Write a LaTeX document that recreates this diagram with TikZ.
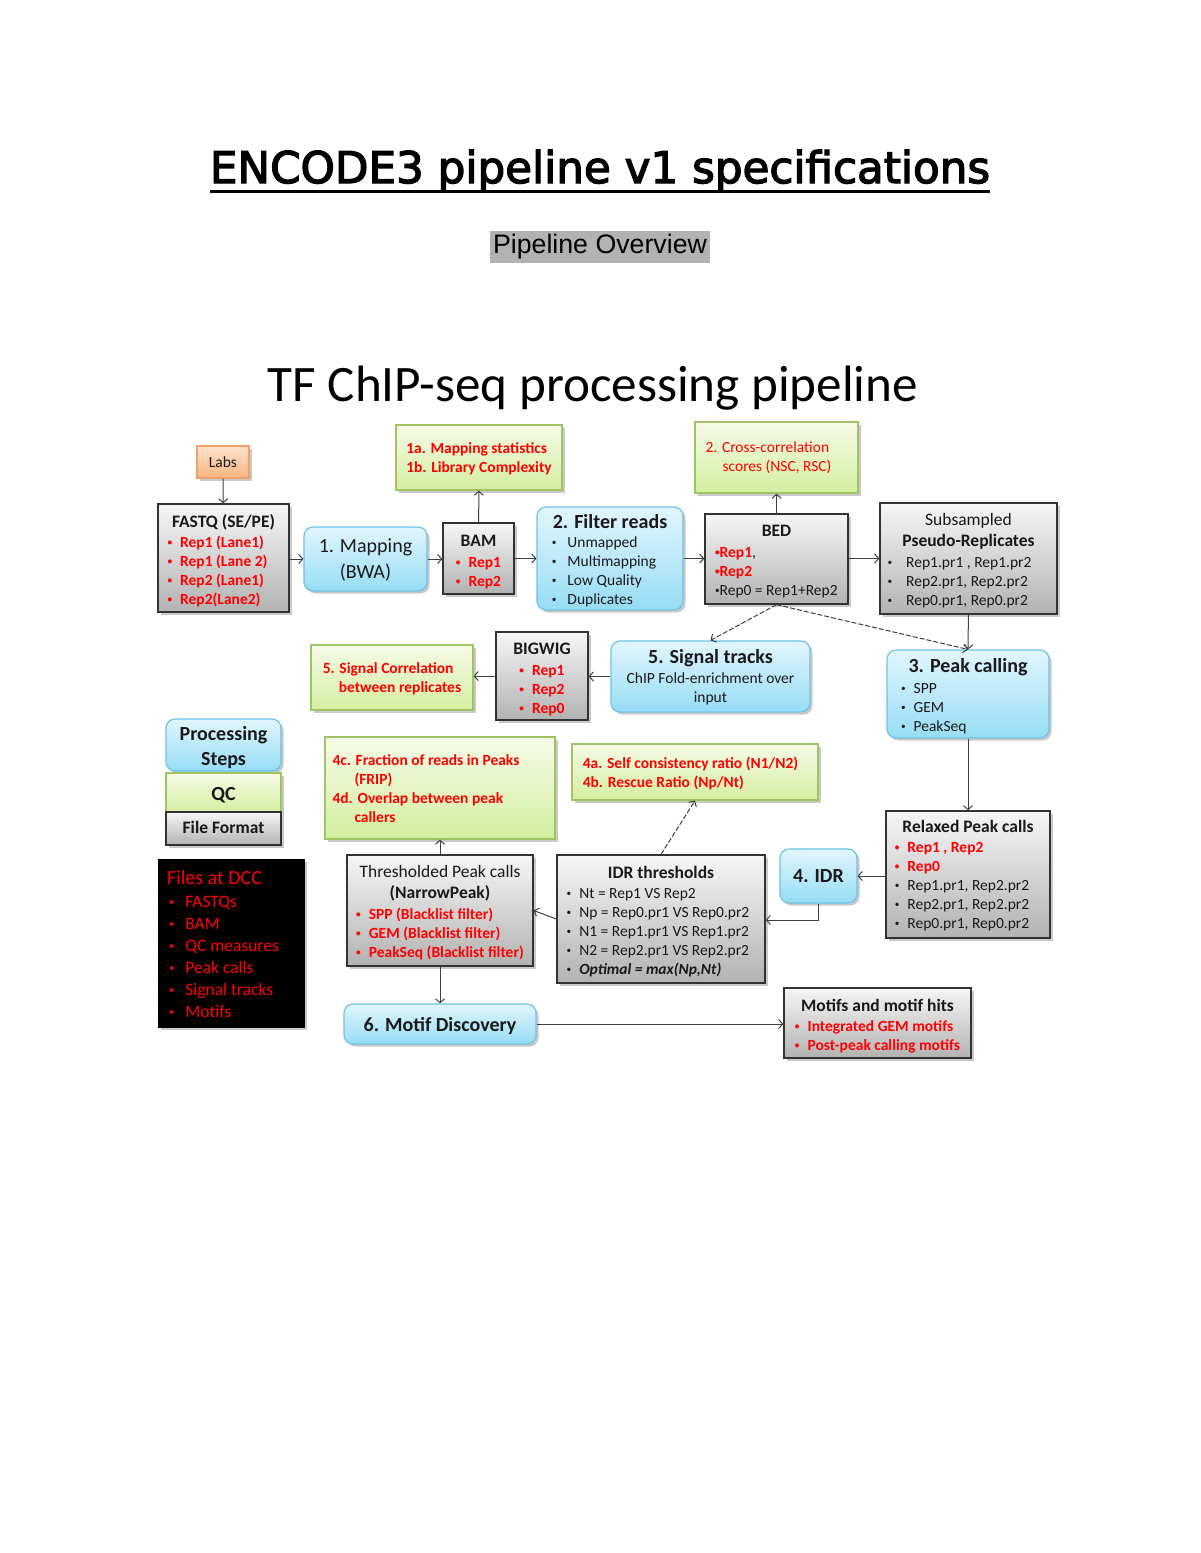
\documentclass[tikz,border=0pt]{standalone}
\usepackage{fontspec}
\setmainfont{Carlito}
\newfontfamily\titlefont[FakeBold=3]{DejaVu Sans}
\newfontfamily\ovfont{Liberation Sans}
\usepackage{graphicx}
\usetikzlibrary{arrows.meta,shadows}
\definecolor{tred}{RGB}{255,0,0}
\definecolor{tblk}{RGB}{25,25,25}
\definecolor{gtop}{RGB}{246,246,246}
\definecolor{gbot}{RGB}{178,178,178}
\definecolor{btop}{RGB}{226,246,253}
\definecolor{bbot}{RGB}{150,220,245}
\definecolor{bdraw}{RGB}{110,195,230}
\definecolor{qtop}{RGB}{246,251,232}
\definecolor{qbot}{RGB}{212,238,160}
\definecolor{qdraw}{RGB}{160,195,100}
\definecolor{otop}{RGB}{253,228,206}
\definecolor{obot}{RGB}{249,178,128}
\definecolor{odraw}{RGB}{240,160,105}
\newcommand\bfs{\fontsize{15.5}{19}\selectfont}
\newcommand\hfs{\fontsize{17.5}{21}\selectfont}
\newcommand\Hfs{\fontsize{20}{25.5}\selectfont}
\newcommand\dott{\raisebox{0.12em}{\scalebox{0.6}{\textbullet}}}
\newcommand\bu{\dott\hspace{8pt}}
\newcommand\rb[1]{\textcolor{tred}{\textbf{#1}}}
\newcommand\lst[1]{\begin{tabular}[t]{@{}l@{}}#1\end{tabular}}
\newbox\nodebx
\newcommand\ct[2][3pt]{\setbox\nodebx=\hbox{\begin{tabular}{@{}c@{}}#2\end{tabular}}%
  \ht\nodebx=\dimexpr\ht\nodebx+#1\relax
  \dp\nodebx=\dimexpr\dp\nodebx-#1\relax
  \lower#1\box\nodebx}
\tikzset{
  x=1pt, y=-1pt,
  base/.style={inner sep=0pt, text=tblk, font=\bfs,
    drop shadow={shadow xshift=2.5pt, shadow yshift=-2.5pt, fill=black!35, opacity=0.6}},
  gbox/.style={base, draw=black!80, line width=1.3pt, top color=gtop, bottom color=gbot},
  bbox/.style={base, draw=bdraw, line width=1.2pt, rounded corners=9pt, top color=btop, bottom color=bbot},
  qbox/.style={base, draw=qdraw, line width=1.2pt, top color=qtop, bottom color=qbot, text=tred},
  obox/.style={base, draw=odraw, line width=1.2pt, top color=otop, bottom color=obot},
  kbox/.style={base, draw=black, fill=black, text=tred},
  arr/.style={draw=black!75, line width=1pt, -{Straight Barb[length=4pt,width=9pt]}},
  darr/.style={arr, dash pattern=on 5pt off 2pt},
}
\begin{document}
\begin{tikzpicture}
\useasboundingbox[fill=white] (0,0) rectangle (1200,1553);

% headings
\node[inner sep=0pt] (title) at (600,171) {\resizebox{780pt}{!}{\titlefont ENCODE3 pipeline v1 specifications}};
\draw[line width=3pt] (210,191) -- (990,191);
\node[fill=black!30, minimum width=220pt, minimum height=32pt, inner sep=0pt] (ov) at (600,247)
  {\resizebox{214pt}{!}{\ovfont Pipeline Overview}};
\node[inner sep=0pt] (tf) at (593,388) {\resizebox{650pt}{!}{TF ChIP-seq processing pipeline}};

% nodes
\node[obox, minimum width=52pt, minimum height=32pt] (labs) at (223,462) {Labs};
\node[gbox, minimum width=131pt, minimum height=108pt] (fastq) at (223.5,558)
  {\ct[4pt]{{\hfs\textbf{FASTQ (SE/PE)}}\\[1pt]
   \lst{\rb{\bu Rep1 (Lane1)}\\ \rb{\bu Rep1 (Lane 2)}\\ \rb{\bu Rep2 (Lane1)}\\ \rb{\bu Rep2(Lane2)}}\kern12pt}};
\node[bbox, minimum width=123pt, minimum height=64pt, font=\Hfs] (map) at (365.5,559) {\ct[1.5pt]{1. Mapping\\(BWA)}};
\node[gbox, minimum width=71pt, minimum height=71pt] (bam) at (478.5,558.5)
  {\ct[4pt]{{\hfs\textbf{BAM}}\\[2pt] \lst{\rb{\bu Rep1}\\ \rb{\bu Rep2}}}};
\node[qbox, minimum width=166pt, minimum height=65pt] (q1) at (479,457.5)
  {\ct[2pt]{\lst{\textbf{1a. Mapping statistics}\\ \textbf{1b. Library Complexity}}}};
\node[bbox, minimum width=146pt, minimum height=103pt] (filt) at (610,558.5)
  {\ct[4pt]{{\Hfs\textbf{2. Filter reads}}\\
   \lst{\dott\hspace{11pt}Unmapped\\ \dott\hspace{11pt}Multimapping\\ \dott\hspace{11pt}Low Quality\\ \dott\hspace{11pt}Duplicates}\kern12pt}};
\node[gbox, minimum width=143pt, minimum height=90pt] (bed) at (776.5,559)
  {\ct[3pt]{\lst{\makebox[123pt]{\hfs\textbf{BED}}\\[2pt] \rb{\dott Rep1},\\ \rb{\dott Rep2}\\ \dott Rep0 = Rep1+Rep2}}};
\node[qbox, minimum width=163pt, minimum height=71pt] (q2) at (776.5,457.5)
  {\ct[1pt]{\lst{2. Cross-correlation\\ \hspace{17pt}scores (NSC, RSC)}\kern16pt}};
\node[gbox, minimum width=177pt, minimum height=111pt] (sub) at (968.5,558.5)
  {\ct[3.5pt]{{\hfs Subsampled}\\[2pt] {\hfs\textbf{Pseudo-Replicates}}\\[2pt]
   \lst{\dott\hspace{14pt}Rep1.pr1 , Rep1.pr2\\ \dott\hspace{14pt}Rep2.pr1, Rep2.pr2\\ \dott\hspace{14pt}Rep0.pr1, Rep0.pr2}\kern18pt}};
\node[bbox, minimum width=162pt, minimum height=88pt] (peak) at (968,694)
  {\ct[4pt]{\lst{\makebox[140pt]{\Hfs\textbf{3. Peak calling}}\\[2pt] \kern3pt\bu SPP\\ \kern3pt\bu GEM\\ \kern3pt\bu PeakSeq}}};
\node[bbox, minimum width=199pt, minimum height=71pt] (sig) at (710.5,676.5)
  {\ct[2.5pt]{{\Hfs\textbf{5. Signal tracks}}\\[1pt] ChIP Fold-enrichment over\\ input}};
\node[gbox, minimum width=92pt, minimum height=88pt] (bw) at (542,676)
  {\ct[4.5pt]{{\hfs\textbf{BIGWIG}}\\[2pt] \lst{\rb{\bu Rep1}\\ \rb{\bu Rep2}\\ \rb{\bu Rep0}}}};
\node[qbox, minimum width=162pt, minimum height=65pt] (q5) at (392,677.5)
  {\ct[2pt]{\lst{\textbf{5. Signal Correlation}\\ \hspace{16pt}\textbf{between replicates}}}};

% legend
\node[bbox, minimum width=115pt, minimum height=52pt, font=\Hfs\bfseries] (legp) at (223.5,745) {\ct[3pt]{Processing\\Steps}};
\node[qbox, minimum width=115pt, minimum height=39pt, font=\Hfs\bfseries, text=tblk] (legq) at (223.5,792.5) {\ct[3pt]{QC}};
\node[gbox, minimum width=115pt, minimum height=33pt, font=\hfs\bfseries] (legf) at (223.5,828.5) {\ct[1pt]{File Format}};

\node[qbox, minimum width=230pt, minimum height=102pt] (q4c) at (440,788)
  {\ct[2pt]{\lst{\textbf{4c. Fraction of reads in Peaks}\\ \hspace{22pt}\textbf{(FRIP)}\\ \textbf{4d. Overlap between peak}\\ \hspace{22pt}\textbf{callers}}\kern28pt}};
\node[qbox, minimum width=246pt, minimum height=56pt] (q4a) at (695,772)
  {\ct[2pt]{\lst{\textbf{4a. Self consistency ratio (N1/N2)}\\ \textbf{4b. Rescue Ratio (Np/Nt)}}\kern9pt}};

\node[kbox, minimum width=146pt, minimum height=168pt] (dcc) at (231,943)
  {\ct[4pt]{\lst{{\Hfs Files at DCC}\\[2pt]
   {\fontsize{17.5}{22}\selectfont\lst{\kern2pt\dott\hspace{11pt}FASTQs\\ \kern2pt\dott\hspace{11pt}BAM\\ \kern2pt\dott\hspace{11pt}QC measures\\ \kern2pt\dott\hspace{11pt}Peak calls\\ \kern2pt\dott\hspace{11pt}Signal tracks\\ \kern2pt\dott\hspace{11pt}Motifs}}}\kern16pt}};

\node[gbox, minimum width=186pt, minimum height=111pt] (thr) at (440,910.5)
  {\ct[3.5pt]{{\hfs Thresholded Peak calls}\\[2pt] {\hfs\textbf{(NarrowPeak)}}\\[2pt]
   \lst{\rb{\bu SPP (Blacklist filter)}\\ \rb{\bu GEM (Blacklist filter)}\\ \rb{\bu PeakSeq (Blacklist filter)}}}};
\node[gbox, minimum width=208pt, minimum height=128pt] (idrt) at (661,919)
  {\ct[4pt]{{\hfs\textbf{IDR thresholds}}\\[1pt]
   \lst{\bu Nt = Rep1 VS Rep2\\ \bu Np = Rep0.pr1 VS Rep0.pr2\\ \bu N1 = Rep1.pr1 VS Rep1.pr2\\ \bu N2 = Rep2.pr1 VS Rep2.pr2\\ \bu \textbf{\textit{Optimal = max(Np,Nt)}}}\kern6pt}};
\node[bbox, minimum width=77pt, minimum height=54pt, font=\Hfs\bfseries] (idr) at (818.5,876) {\ct[1pt]{4. IDR}};
\node[gbox, minimum width=164pt, minimum height=127pt] (relax) at (968,874.5)
  {\ct[2.5pt]{{\hfs\textbf{Relaxed Peak calls}}\\[1pt]
   \lst{\rb{\bu Rep1 , Rep2}\\ \rb{\bu Rep0}\\ \bu Rep1.pr1, Rep2.pr2\\ \bu Rep2.pr1, Rep2.pr2\\ \bu Rep0.pr1, Rep0.pr2}\kern12pt}};
\node[bbox, minimum width=192pt, minimum height=40pt, font=\Hfs\bfseries] (motif) at (440,1024) {\ct[2pt]{6. Motif Discovery}};
\node[gbox, minimum width=187pt, minimum height=70pt] (mhits) at (877.5,1023)
  {\ct[4.5pt]{{\hfs\textbf{Motifs and motif hits}}\\[1pt]
   \lst{\rb{\bu Integrated GEM motifs}\\ \rb{\bu Post-peak calling motifs}}}};

% connectors
\draw[arr] (labs) -- (fastq);
\draw[arr] (fastq.east |- map.west) -- (map.west);
\draw[arr] (map.east) -- (map.east -| bam.west);
\draw[arr] (bam) -- (q1);
\draw[arr] (bam.east |- filt.west) -- (filt.west);
\draw[arr] (filt.east) -- (filt.east -| bed.west);
\draw[arr] (bed) -- (q2);
\draw[arr] (bed.east |- sub.west) -- (sub.west);
\draw[arr] (sub) -- (peak);
\draw[darr] (bed.south) -- (sig.north);
\draw[darr] (bed.south) -- (peak.north);
\draw[arr] (sig.west) -- (sig.west -| bw.east);
\draw[arr] (bw.west) -- (bw.west -| q5.east);
\draw[arr] (peak) -- (relax);
\draw[arr] (relax.west |- idr.east) -- (idr.east);
\coordinate (idrc) at (818.5,920);
\draw[arr] (idr.south) -- (idrc) -- (idrc -| idrt.east);
\draw[arr] (idrt.west) -- (thr.east);
\draw[darr] (idrt.north) -- (q4a.south);
\draw[arr] (thr) -- (q4c);
\draw[arr] (thr) -- (motif);
\draw[arr] (motif.east) -- (motif.east -| mhits.west);
\end{tikzpicture}
\end{document}
